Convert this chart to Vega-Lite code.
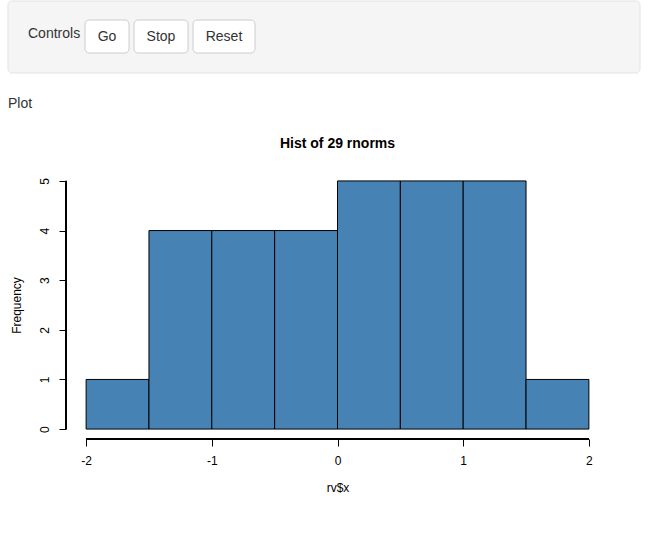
{
  "$schema": "https://vega.github.io/schema/vega-lite/v6.json",
  "background": "white",
  "padding": {"left": 7, "top": 0, "right": 0, "bottom": 0},
  "spacing": 26,
  "config": {"font": "Liberation Sans", "axis": {"grid": false}},
  "vconcat": [
    {
      "width": 574,
      "height": 110,
      "view": {"stroke": null},
      "data": {"values": [
        {"label": "", "kind": "panel", "left": -58, "right": 574, "top": 0, "bottom": 72},
        {"label": "Controls", "kind": "label", "px": -38, "base": 37},
        {"label": "Plot", "kind": "label", "px": -58, "base": 107},
        {"label": "Go", "kind": "button", "left": 19, "right": 63, "top": 19, "bottom": 52, "px": 41, "base": 40},
        {"label": "Stop", "kind": "button", "left": 68, "right": 122, "top": 19, "bottom": 52, "px": 95, "base": 40},
        {"label": "Reset", "kind": "button", "left": 127, "right": 189, "top": 19, "bottom": 52, "px": 158, "base": 40}
      ]},
      "layer": [
        {
          "transform": [{"filter": "datum.kind === 'panel'"}],
          "mark": {"type": "rect", "fill": "#f5f5f5", "stroke": "#e3e3e3", "strokeWidth": 1, "cornerRadius": 4},
          "encoding": {
            "x": {"field": "left", "type": "quantitative", "scale": {"domain": [0, 574], "nice": false, "zero": false}, "axis": null},
            "x2": {"field": "right"},
            "y": {"field": "top", "type": "quantitative", "scale": {"domain": [0, 110], "nice": false, "zero": false, "reverse": true}, "axis": null},
            "y2": {"field": "bottom"}
          }
        },
        {
          "transform": [{"filter": "datum.kind === 'button'"}],
          "mark": {"type": "rect", "fill": "white", "stroke": "#cccccc", "strokeWidth": 1, "cornerRadius": 4},
          "encoding": {
            "x": {"field": "left", "type": "quantitative", "scale": {"domain": [0, 574], "nice": false, "zero": false}, "axis": null},
            "x2": {"field": "right"},
            "y": {"field": "top", "type": "quantitative", "scale": {"domain": [0, 110], "nice": false, "zero": false, "reverse": true}, "axis": null},
            "y2": {"field": "bottom"}
          }
        },
        {
          "transform": [{"filter": "datum.kind === 'button'"}],
          "mark": {"type": "text", "fontSize": 14, "color": "#333333", "baseline": "alphabetic", "align": "center", "font": "Liberation Sans"},
          "encoding": {
            "x": {"field": "px", "type": "quantitative", "scale": {"domain": [0, 574], "nice": false, "zero": false}, "axis": null},
            "y": {"field": "base", "type": "quantitative", "scale": {"domain": [0, 110], "nice": false, "zero": false, "reverse": true}, "axis": null},
            "text": {"field": "label"}
          }
        },
        {
          "transform": [{"filter": "datum.kind === 'label'"}],
          "mark": {"type": "text", "fontSize": 14, "color": "#333333", "baseline": "alphabetic", "align": "left", "font": "Liberation Sans"},
          "encoding": {
            "x": {"field": "px", "type": "quantitative", "scale": {"domain": [0, 574], "nice": false, "zero": false}, "axis": null},
            "y": {"field": "base", "type": "quantitative", "scale": {"domain": [0, 110], "nice": false, "zero": false, "reverse": true}, "axis": null},
            "text": {"field": "label"}
          }
        }
      ]
    },
    {
      "width": 543,
      "height": 268,
      "view": {"stroke": null},
      "title": {"text": "Hist of 29 rnorms", "fontSize": 14, "fontWeight": "bold", "font": "Liberation Sans", "color": "black", "offset": 20, "anchor": "middle"},
      "data": {"values": [
        {"bin_start": -2.0, "bin_end": -1.5, "count": 1},
        {"bin_start": -1.5, "bin_end": -1.0, "count": 4},
        {"bin_start": -1.0, "bin_end": -0.5, "count": 4},
        {"bin_start": -0.5, "bin_end": 0.0, "count": 4},
        {"bin_start": 0.0, "bin_end": 0.5, "count": 5},
        {"bin_start": 0.5, "bin_end": 1.0, "count": 5},
        {"bin_start": 1.0, "bin_end": 1.5, "count": 5},
        {"bin_start": 1.5, "bin_end": 2.0, "count": 1}
      ]},
      "layer": [
        {
          "mark": {"type": "bar", "fill": "#4682B4", "stroke": "black", "strokeWidth": 1},
          "encoding": {
            "x": {"field": "bin_start", "type": "quantitative", "scale": {"domain": [-2.16, 2.16], "nice": false, "zero": false},
              "axis": {"values": [-2, -1, 0, 1, 2], "title": "rv$x", "domain": false, "grid": false, "tickColor": "black", "tickSize": 7, "tickWidth": 1,
                "labelColor": "black", "labelFontSize": 12, "labelFont": "Liberation Sans", "labelPadding": 9, "labelFlush": false, "labelOverlap": false,
                "labelExpr": "toString(datum.value)",
                "titleFontSize": 12, "titleFontWeight": "normal", "titleColor": "black", "titleFont": "Liberation Sans", "titlePadding": 16}},
            "x2": {"field": "bin_end"},
            "y": {"field": "count", "type": "quantitative", "scale": {"domain": [-0.2, 5.2], "nice": false, "zero": false},
              "axis": {"values": [0, 1, 2, 3, 4, 5], "title": "Frequency", "domain": false, "grid": false, "tickColor": "black", "tickSize": 7, "tickWidth": 1,
                "labelColor": "black", "labelFontSize": 12, "labelFont": "Liberation Sans", "labelPadding": 8, "labelFlush": false, "labelOverlap": false,
                "labelAngle": -90, "labelAlign": "center", "labelBaseline": "bottom",
                "titleFontSize": 12, "titleFontWeight": "normal", "titleColor": "black", "titleFont": "Liberation Sans", "titlePadding": 15}},
            "y2": {"datum": 0}
          }
        },
        {
          "mark": {"type": "rule", "color": "black", "strokeWidth": 1},
          "encoding": {"x": {"datum": -2}, "x2": {"datum": 2}, "y": {"datum": -0.2}}
        },
        {
          "mark": {"type": "rule", "color": "black", "strokeWidth": 1},
          "encoding": {"x": {"datum": -2.16}, "y": {"datum": 0}, "y2": {"datum": 5}}
        }
      ]
    }
  ]
}
